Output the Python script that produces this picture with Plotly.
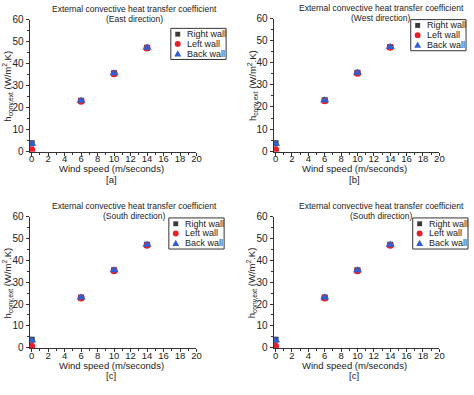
import plotly.graph_objects as go

wind_speed = [0, 6, 10, 14]
right_wall = [3.6, 23.0, 35.5, 47.2]
left_wall = [0.6, 22.8, 35.3, 47.0]
back_wall = [3.4, 23.0, 35.5, 47.2]

x_ticks = [0, 2, 4, 6, 8, 10, 12, 14, 16, 18, 20]
y_ticks = [0, 10, 20, 30, 40, 50, 60]

title_line1 = "External convective heat transfer coefficient"
title_line2 = ["(East direction)", "(West direction)", "(South direction)", "(South direction)"]
panel_labels = ["[a]", "[b]", "[c]", "[c]"]
legend_names = ["Right wall", "Left wall", "Back wall"]
series_colors = ["#3a3a3a", "#e5202a", "#2f5fd0"]

W, H = 474, 395
boxes = [
    (29, 198, 14, 150),
    (276, 444, 13, 150),
    (29, 198, 217, 352),
    (276, 444, 217, 352),
]
legend_pos = [(172, 23), (415, 14), (170, 218), (417, 218)]
title_pos = [(135, 3), (385, 2), (135, 206), (385, 206)]

FONT = "Liberation Sans, Arial, sans-serif"
fig = go.Figure()
layout = dict(width=W, height=H, margin=dict(l=0, r=0, t=0, b=0),
              paper_bgcolor="white", plot_bgcolor="white",
              font=dict(family=FONT, size=10, color="#222"), showlegend=False)
annotations = []
shapes = []


def px(x):
    return x / W


def py(y):
    return 1 - y / H


for i, (xl, xr, yt, yb) in enumerate(boxes):
    n = "" if i == 0 else str(i + 1)
    xa, ya = "x" + n, "y" + n
    fig.add_trace(go.Scatter(x=wind_speed, y=right_wall, mode="markers", xaxis=xa, yaxis=ya,
                             marker=dict(symbol="square", size=6, color=series_colors[0]),
                             name=legend_names[0]))
    fig.add_trace(go.Scatter(x=wind_speed, y=left_wall, mode="markers", xaxis=xa, yaxis=ya,
                             marker=dict(symbol="circle", size=7, color=series_colors[1]),
                             name=legend_names[1]))
    fig.add_trace(go.Scatter(x=wind_speed, y=back_wall, mode="markers", xaxis=xa, yaxis=ya,
                             marker=dict(symbol="triangle-up", size=8, color=series_colors[2]),
                             name=legend_names[2]))
    axis_common = dict(showline=True, linecolor="#333", linewidth=1, ticks="outside",
                       ticklen=3, tickcolor="#333", showgrid=False, zeroline=False)
    layout["xaxis" + n] = dict(domain=[px(xl), px(xr)], range=[-0.25, 20], anchor=ya,
                               tickvals=x_ticks, ticklabelstandoff=-5,
                               tickfont=dict(size=9.5, color="#222"),
                               minor=dict(ticks="outside", ticklen=2, dtick=1, tickcolor="#333"),
                               **axis_common)
    layout["yaxis" + n] = dict(domain=[py(yb), py(yt)], range=[-0.3, 60], anchor=xa,
                               tickvals=y_ticks, ticklabelstandoff=0,
                               tickfont=dict(size=10, color="#222"),
                               minor=dict(ticks="outside", ticklen=2, dtick=5, tickcolor="#333"),
                               **axis_common)
    tx, ty = title_pos[i]
    annotations.append(dict(x=px(tx), y=py(ty), xref="paper", yref="paper", xanchor="center",
                            yanchor="middle", text=title_line1, showarrow=False,
                            font=dict(size=8.5, color="#222")))
    annotations.append(dict(x=px(tx), y=py(ty + 10.5), xref="paper", yref="paper", xanchor="center",
                            yanchor="middle", text=title_line2[i], showarrow=False,
                            font=dict(size=8.5, color="#222")))
    xc = (xl + xr) / 2 - 2
    annotations.append(dict(x=px(xc), y=py(yb + 17.5), xref="paper", yref="paper", xanchor="center",
                            yanchor="middle", text="Wind speed (m/seconds)", showarrow=False,
                            font=dict(size=9.5, color="#222")))
    annotations.append(dict(x=px(xc), y=py(yb + 28.5), xref="paper", yref="paper", xanchor="center",
                            yanchor="middle", text=panel_labels[i], showarrow=False,
                            font=dict(size=9.5, color="#222")))
    annotations.append(dict(x=px(xl - 22), y=py((yt + yb) / 2), xref="paper", yref="paper",
                            xanchor="center", yanchor="middle", textangle=-90,
                            text="h<sub>conv,ext</sub> (W/m<sup>2</sup>.K)", showarrow=False,
                            font=dict(size=9.5, color="#222")))
    lx, ly = legend_pos[i]
    shapes.append(dict(type="rect", xref="paper", yref="paper", x0=px(lx), x1=px(lx + 56),
                       y0=py(ly + 32), y1=py(ly), line=dict(color="#333", width=1),
                       fillcolor="white", layer="above"))
    for k in range(3):
        yy = ly + 6 + k * 10
        cx = lx + 7
        col = series_colors[k]
        if k == 0:
            shapes.append(dict(type="rect", xref="paper", yref="paper", x0=px(cx - 2.5),
                               x1=px(cx + 2.5), y0=py(yy + 2.5), y1=py(yy - 2.5),
                               fillcolor=col, line=dict(width=0), layer="above"))
        elif k == 1:
            shapes.append(dict(type="circle", xref="paper", yref="paper", x0=px(cx - 3),
                               x1=px(cx + 3), y0=py(yy + 3), y1=py(yy - 3),
                               fillcolor=col, line=dict(width=0), layer="above"))
        else:
            path = "M {} {} L {} {} L {} {} Z".format(px(cx - 3.5), py(yy + 3), px(cx + 3.5),
                                                       py(yy + 3), px(cx), py(yy - 3.5))
            shapes.append(dict(type="path", xref="paper", yref="paper", path=path,
                               fillcolor=col, line=dict(width=0), layer="above"))
        annotations.append(dict(x=px(lx + 14), y=py(yy), xref="paper", yref="paper",
                                xanchor="left", yanchor="middle", text=legend_names[k],
                                showarrow=False, font=dict(size=9, color="#222")))

layout["annotations"] = annotations
layout["shapes"] = shapes
fig.update_layout(**layout)
fig.write_html("out.html", config={"displayModeBar": False},
               post_script="document.body.style.margin='0';document.body.style.padding='0';")
